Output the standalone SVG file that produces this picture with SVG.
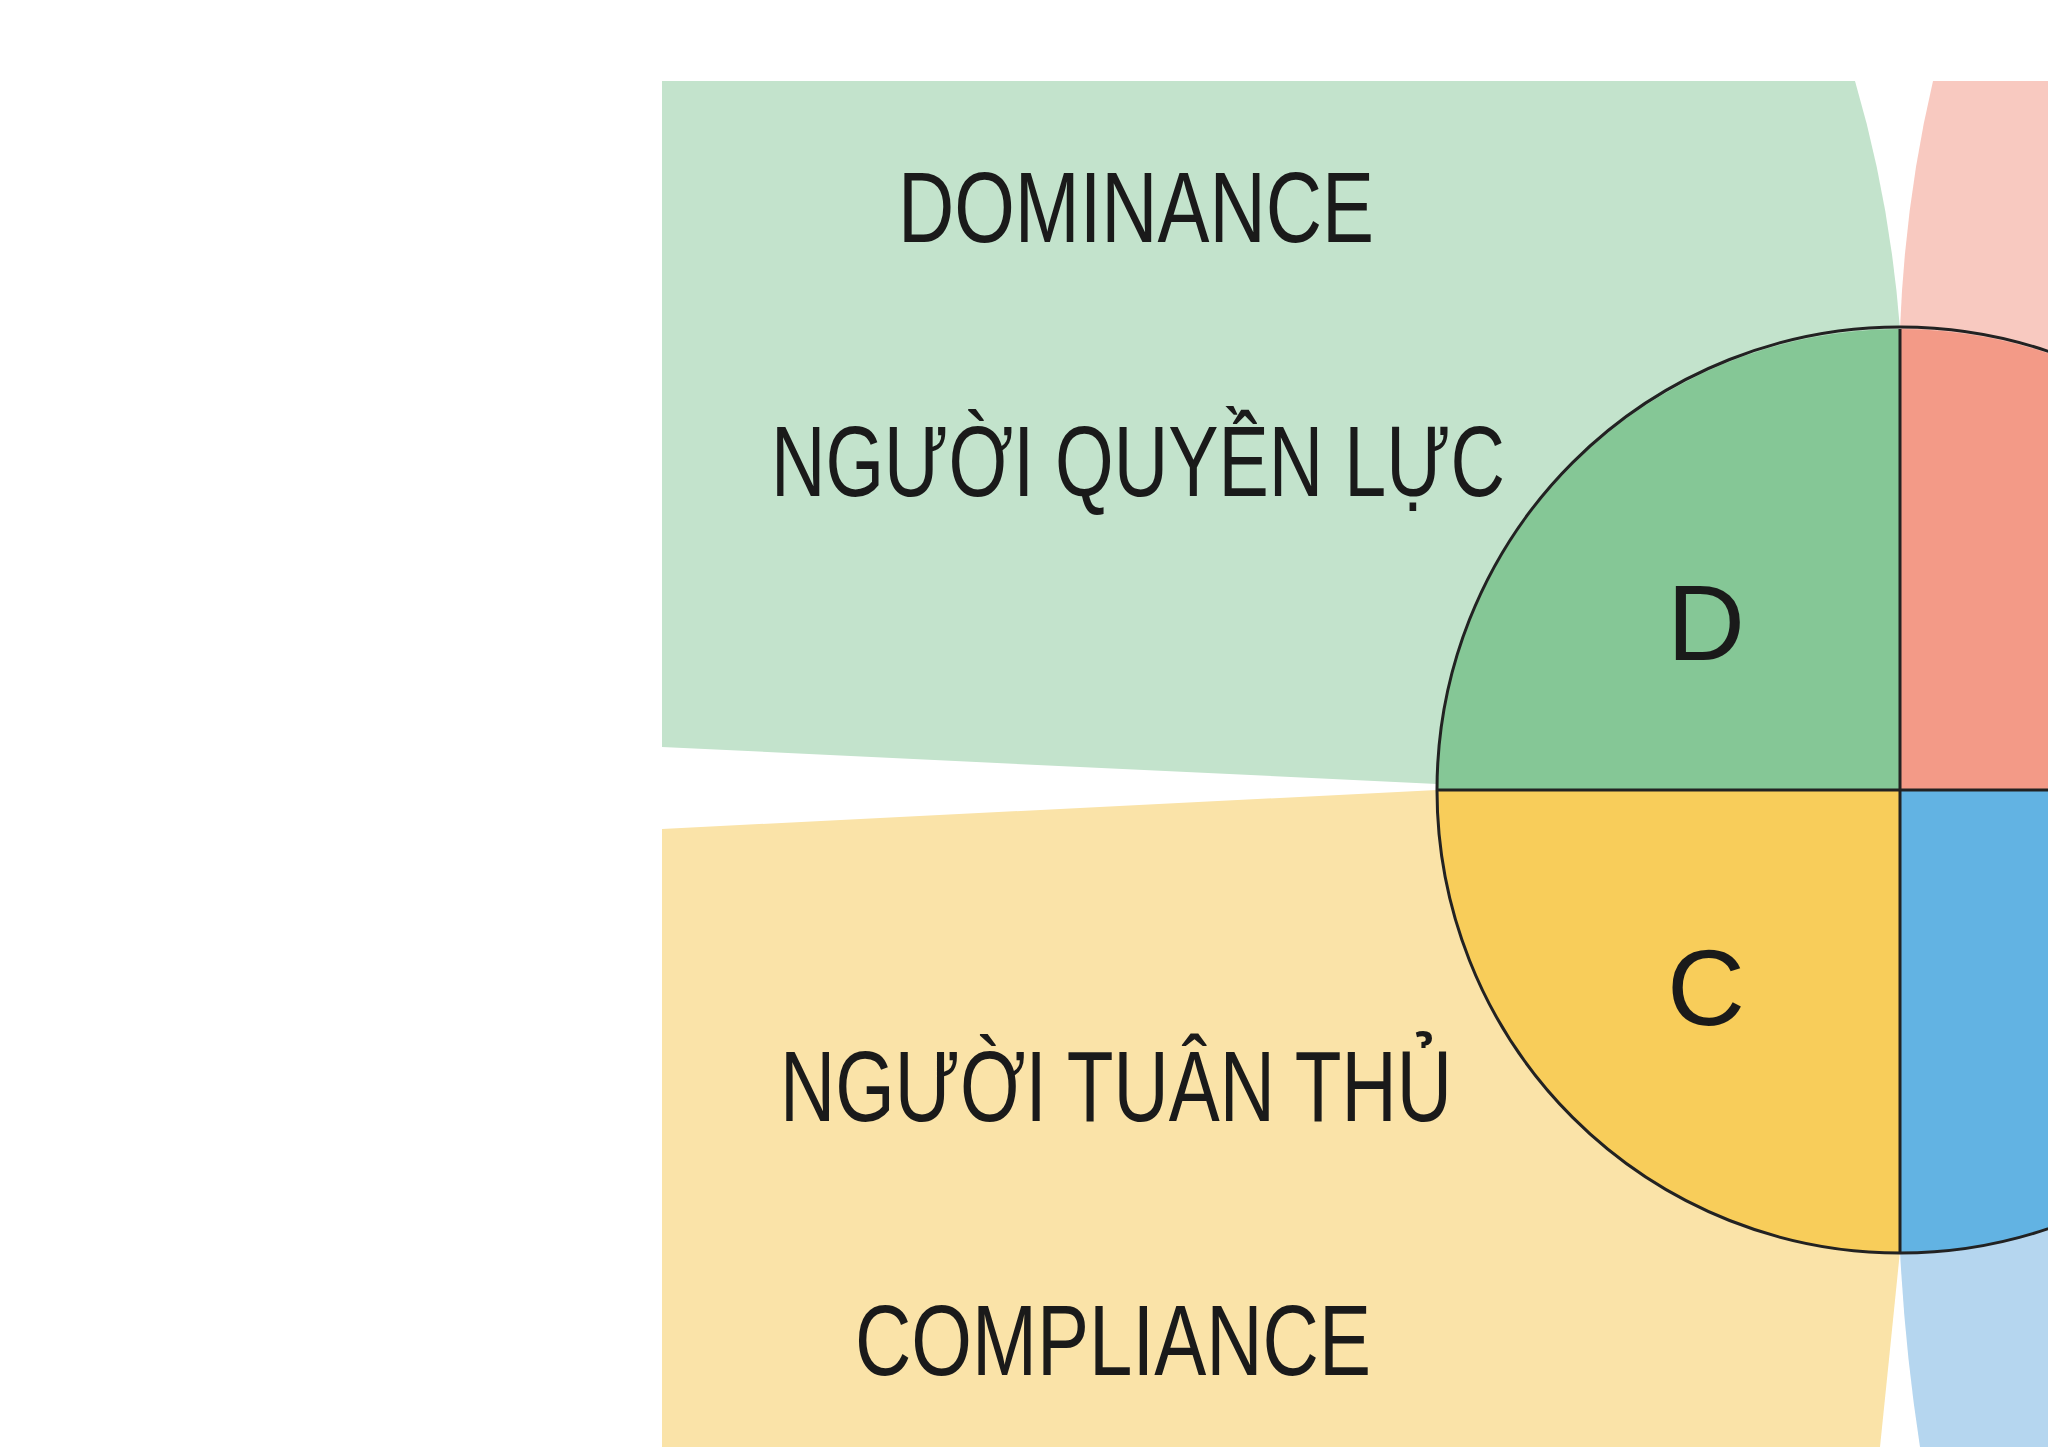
<svg xmlns="http://www.w3.org/2000/svg" width="2048" height="1447" viewBox="0 0 2048 1447">
<style>
.t{font-family:"Liberation Sans",Arial,sans-serif;font-size:100px;fill:#1a1a1a}
.l{font-family:"Liberation Sans",Arial,sans-serif;font-size:108px;fill:#1a1a1a;text-anchor:middle}
</style>
<rect width="2048" height="1447" fill="#fff"/>
<g id="panels">
<path d="M662,81 L1855,81 Q1890,200 1900,329 L1900,790 L1437,784 L662,747 Z" fill="#c3e3cc"/>
<path d="M662,829 L1437,790 L1900,790 L1900,1251 Q1890,1350 1880,1447 L662,1447 Z" fill="#fae3a8"/>
<path d="M1933,81 L2048,81 L2048,790 L1900,790 L1900,329 Q1905,200 1933,81 Z" fill="#f8c9c0"/>
<path d="M1900,790 L2048,790 L2048,1447 L1920,1447 Q1905,1350 1900,1251 Z" fill="#b5d6ef"/>
</g>
<g id="circle">
<path d="M1900,790 L1437,790 A463,463 0 0 1 1900,329 Z" fill="#85c796"/>
<path d="M1900,790 L1900,329 A463,463 0 0 1 2363,790 Z" fill="#f39a87"/>
<path d="M1900,790 L1437,790 A463,463 0 0 0 1900,1253 Z" fill="#f8cd5a"/>
<path d="M1900,790 L1900,1253 A463,463 0 0 0 2363,790 Z" fill="#62b3e3"/>
<circle cx="1900" cy="790" r="463" fill="none" stroke="#222" stroke-width="3"/>
<line x1="1437" y1="790" x2="2048" y2="790" stroke="#222" stroke-width="3"/>
<line x1="1900" y1="329" x2="1900" y2="1253" stroke="#222" stroke-width="3"/>
</g>
<g id="D"><text class="l" x="1706" y="660">D</text></g>
<g id="C"><text class="l" x="1706" y="1025">C</text></g>
<g id="labels">
<text class="t" x="898" y="242" textLength="476" lengthAdjust="spacingAndGlyphs">DOMINANCE</text>
<text class="t" x="771" y="496" textLength="734" lengthAdjust="spacingAndGlyphs">NGƯỜI QUYỀN LỰC</text>
<text class="t" x="780" y="1121" textLength="672" lengthAdjust="spacingAndGlyphs">NGƯỜI TUÂN THỦ</text>
<text class="t" x="855" y="1375" textLength="516" lengthAdjust="spacingAndGlyphs">COMPLIANCE</text>
</g>
</svg>
